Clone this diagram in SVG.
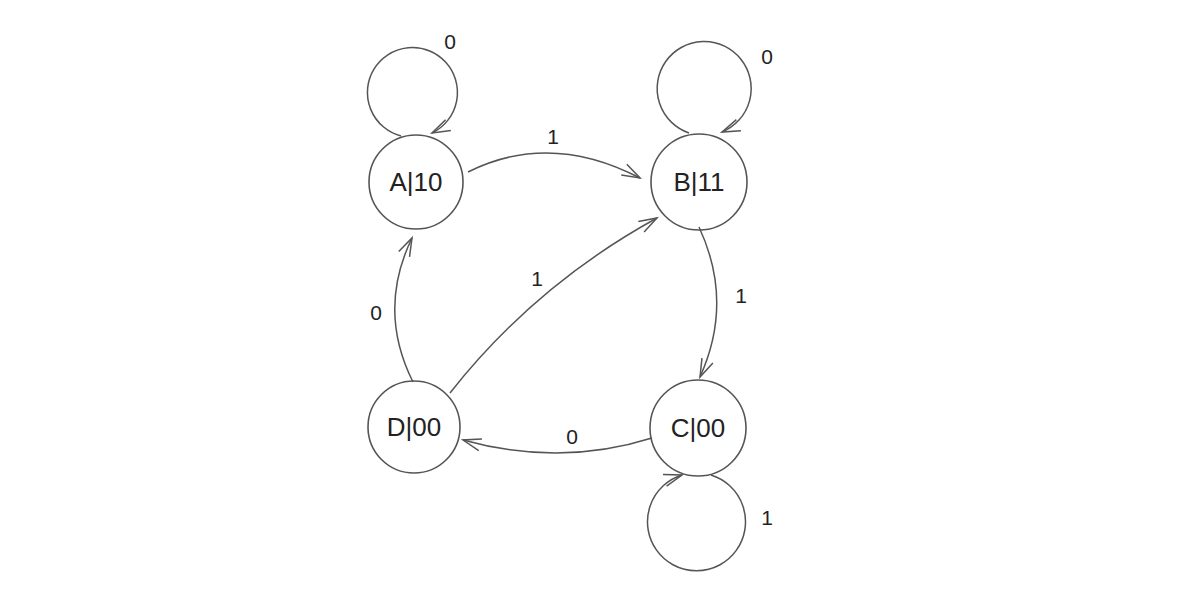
<svg xmlns="http://www.w3.org/2000/svg" width="1196" height="600" viewBox="0 0 1196 600">
<defs>
<style>
.node circle{fill:none;stroke:#555;stroke-width:1.6}
.node text{font-family:"Liberation Sans",Arial,sans-serif;font-size:26px;fill:#222;text-anchor:middle}
.edge{fill:none;stroke:#555;stroke-width:1.5}
.lbl{font-family:"Liberation Sans",Arial,sans-serif;font-size:21px;fill:#222;text-anchor:middle}
</style>
<marker id="arr" markerUnits="userSpaceOnUse" markerWidth="24" markerHeight="16" refX="20" refY="8" orient="auto" viewBox="0 0 24 16">
<path d="M2 2 L20 8 L2 14" fill="none" stroke="#555" stroke-width="1.5"/>
</marker>
</defs>
<rect width="1196" height="600" fill="#fff"/>
<g id="connectors">
<path class="edge" marker-end="url(#arr)" d="M401 136 A45 45 0 1 1 432 133"/>
<path class="edge" marker-end="url(#arr)" d="M689 133 A47 47 0 1 1 722 132"/>
<path class="edge" marker-end="url(#arr)" d="M711 475 A49 49 0 1 1 682 475"/>
<path class="edge" marker-end="url(#arr)" d="M468 172 Q550 131 640 178"/>
<path class="edge" marker-end="url(#arr)" d="M699 227 Q734 302 700 377"/>
<path class="edge" marker-end="url(#arr)" d="M652 438 Q560 467 463 440"/>
<path class="edge" marker-end="url(#arr)" d="M413 382 Q377 310 412 238"/>
<path class="edge" marker-end="url(#arr)" d="M450 393 Q535 285 657 218"/>
<text class="lbl" x="450" y="49">0</text>
<text class="lbl" x="767" y="64">0</text>
<text class="lbl" x="767" y="525">1</text>
<text class="lbl" x="553" y="144">1</text>
<text class="lbl" x="741" y="303">1</text>
<text class="lbl" x="537" y="286">1</text>
<text class="lbl" x="376" y="320">0</text>
<text class="lbl" x="572" y="444">0</text>
</g>
<g id="A" class="node"><circle cx="416" cy="182" r="47"/><text x="416" y="191">A|10</text></g>
<g id="B" class="node"><circle cx="699" cy="182" r="48"/><text x="699" y="191">B|11</text></g>
<g id="C" class="node"><circle cx="698" cy="428" r="48"/><text x="698" y="437">C|00</text></g>
<g id="D" class="node"><circle cx="414" cy="427" r="46"/><text x="414" y="436">D|00</text></g>
</svg>
